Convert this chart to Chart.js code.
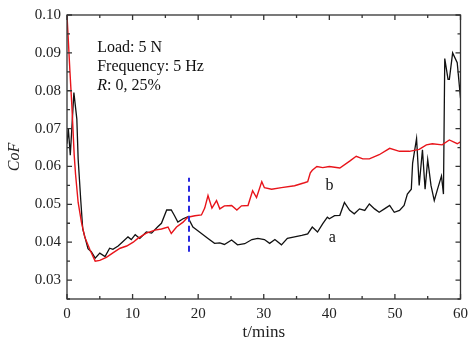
<!DOCTYPE html>
<html>
<head>
<meta charset="utf-8">
<script src="https://cdn.jsdelivr.net/npm/chart.js@4.4.1/dist/chart.umd.min.js"></script>
<style>
  html, body { margin: 0; padding: 0; background: #fff; }
  canvas { display: block; }
</style>
</head>
<body>
<canvas id="cofChart" width="474" height="353"></canvas>
<script>
// curve a (black)
const timeA = [0, 0.2, 0.5, 1.05, 1.5, 1.7, 2.1, 2.4, 3.2, 3.7, 4.3, 5.0, 5.8, 6.5, 7.0, 7.8, 8.5, 9.3, 9.8, 10.4,
    11.1, 12.1, 12.9, 13.8, 14.4, 15.2, 15.9, 16.4, 16.9, 17.7, 18.4, 19.2, 19.5, 20.5, 21.5, 22.5, 23.3, 24.0, 25.1, 26.0,
    27.1, 28.2, 29.1, 30.1, 30.9, 31.7, 32.7, 33.6, 34.7, 35.8, 36.7, 37.4, 38.2, 39.0, 39.7, 40.0, 40.8, 41.6, 42.3, 43.1,
    43.8, 44.6, 45.4, 46.1, 46.9, 47.6, 48.4, 49.2, 49.9, 50.7, 51.4, 51.9, 52.5, 52.7, 53.3, 53.7, 54.2, 54.6, 55.0, 55.5,
    56.0, 56.5, 57.1, 57.4, 57.6, 58.1, 58.3, 58.8, 59.5, 60.0];
const cofA = [0.066, 0.070, 0.063, 0.0795, 0.0725, 0.062, 0.051, 0.0435, 0.0383, 0.0375, 0.0358, 0.0371, 0.0362, 0.0384, 0.0381, 0.039, 0.0401, 0.0414, 0.0407, 0.042,
    0.041, 0.0427, 0.0424, 0.044, 0.045, 0.0485, 0.0485, 0.047, 0.0453, 0.0462, 0.0467, 0.044, 0.0436, 0.0423, 0.041, 0.0397, 0.0398, 0.0394, 0.0406, 0.0393,
    0.0396, 0.0407, 0.041, 0.0407, 0.0397, 0.0407, 0.0393, 0.041, 0.0414, 0.0418, 0.0422, 0.044, 0.0427, 0.0449, 0.0466, 0.0462, 0.047, 0.0471, 0.0505, 0.0484,
    0.0475, 0.0488, 0.0484, 0.0501, 0.0488, 0.0479, 0.0488, 0.0497, 0.0479, 0.0484, 0.0497, 0.0527, 0.054, 0.0609, 0.0674, 0.055, 0.0644, 0.054, 0.0618, 0.055,
    0.051, 0.054, 0.0575, 0.0527, 0.0885, 0.083, 0.083, 0.090, 0.0874, 0.078];

// curve b (red)
const timeB = [0, 0.45, 0.75, 1.1, 1.3, 1.7, 2.2, 2.7, 3.5, 4.3, 5.0, 6.0, 7.0, 8.1, 9.1, 10.1, 10.8, 12.1, 13.4, 14.4,
    15.4, 15.9, 16.7, 17.7, 18.4, 19.5, 20.5, 21.0, 21.5, 22.1, 22.8, 23.3, 24.0, 25.1, 25.9, 26.6, 27.6, 28.3, 28.9, 29.7,
    30.1, 31.2, 32.7, 34.7, 36.2, 36.7, 37.1, 37.4, 38.1, 39.0, 40.0, 41.6, 43.1, 44.1, 45.1, 46.1, 47.6, 49.2, 50.7, 52.2,
    53.7, 54.8, 55.7, 57.2, 58.3, 59.5, 60.0];
const cofB = [0.100, 0.085, 0.0757, 0.063, 0.058, 0.0505, 0.0453, 0.0414, 0.038, 0.035, 0.0352, 0.036, 0.0372, 0.0384, 0.039, 0.040, 0.041, 0.0424, 0.0432, 0.0435,
    0.044, 0.0423, 0.044, 0.0453, 0.0466, 0.047, 0.0472, 0.049, 0.0523, 0.049, 0.051, 0.0488, 0.0496, 0.0497, 0.0485, 0.0496, 0.0497, 0.0536, 0.0518, 0.056,
    0.0544, 0.054, 0.0544, 0.0549, 0.0557, 0.056, 0.0583, 0.059, 0.060, 0.0597, 0.060, 0.0596, 0.0614, 0.0627, 0.062, 0.062, 0.0631, 0.0648, 0.064, 0.064,
    0.0645, 0.0657, 0.066, 0.0657, 0.067, 0.066, 0.0665];

// dashed marker
const markerTime = [18.6, 18.6];
const markerCoF = [0.0375, 0.057];

const xTicks = [0, 10, 20, 30, 40, 50, 60];
const yTicks = [0.03, 0.04, 0.05, 0.06, 0.07, 0.08, 0.09, 0.10];

const toPoints = (xs, ys) => xs.map((x, i) => ({ x: x, y: ys[i] }));

const serif = '"Liberation Serif", "DejaVu Serif", serif';

// frame, inward ticks and text labels
const framePlugin = {
    id: 'frame',
    afterDraw(chart) {
        const { ctx, chartArea: a, scales: { x, y } } = chart;
        ctx.save();
        ctx.strokeStyle = '#333';
        ctx.lineWidth = 1.3;
        ctx.strokeRect(a.left, a.top, a.right - a.left, a.bottom - a.top);
        ctx.beginPath();
        for (let v = 0; v <= 60; v += 5) {
            const px = x.getPixelForValue(v);
            const len = v % 10 === 0 ? 5 : 3;
            ctx.moveTo(px, a.bottom); ctx.lineTo(px, a.bottom - len);
            ctx.moveTo(px, a.top); ctx.lineTo(px, a.top + len);
        }
        for (let k = 5; k <= 20; k++) {
            const v = k * 0.005;
            const py = y.getPixelForValue(v);
            const len = k % 2 === 0 ? 5 : 3;
            ctx.moveTo(a.left, py); ctx.lineTo(a.left + len, py);
            ctx.moveTo(a.right, py); ctx.lineTo(a.right - len, py);
        }
        ctx.stroke();

        ctx.fillStyle = '#111';
        ctx.textBaseline = 'alphabetic';
        ctx.font = '16px ' + serif;
        const tx = x.getPixelForValue(4.6);
        ctx.fillText('Load: 5 N', tx, y.getPixelForValue(0.0903));
        ctx.fillText('Frequency: 5 Hz', tx, y.getPixelForValue(0.0853));
        ctx.font = 'italic 16px ' + serif;
        ctx.fillText('R', tx, y.getPixelForValue(0.0803));
        const rw = ctx.measureText('R').width;
        ctx.font = '16px ' + serif;
        ctx.fillText(': 0, 25%', tx + rw, y.getPixelForValue(0.0803));
        ctx.fillText('b', x.getPixelForValue(39.4), y.getPixelForValue(0.0539));
        ctx.fillText('a', x.getPixelForValue(39.9), y.getPixelForValue(0.0401));
        ctx.restore();
    }
};

new Chart(document.getElementById('cofChart'), {
    type: 'line',
    data: {
        datasets: [
            {
                data: toPoints(markerTime, markerCoF),
                borderColor: '#2a2ae0',
                borderWidth: 2,
                borderDash: [6, 4],
                pointRadius: 0
            },
            {
                data: toPoints(timeB, cofB),
                borderColor: '#e8141a',
                borderWidth: 1.4,
                pointRadius: 0,
                tension: 0
            },
            {
                data: toPoints(timeA, cofA),
                borderColor: '#111',
                borderWidth: 1.3,
                pointRadius: 0,
                tension: 0
            }
        ]
    },
    options: {
        responsive: false,
        animation: false,
        devicePixelRatio: 1,
        layout: { padding: { left: 0, right: 13, top: 9, bottom: 0 } },
        plugins: { legend: { display: false }, tooltip: { enabled: false } },
        scales: {
            x: {
                type: 'linear',
                min: 0,
                max: 60,
                grid: { display: false, drawTicks: false },
                border: { display: false },
                afterBuildTicks: s => { s.ticks = xTicks.map(v => ({ value: v })); },
                afterFit: s => { s.height = 54; },
                ticks: { color: '#222', padding: 6, maxRotation: 0, font: { family: serif, size: 15 } },
                title: { display: true, text: 't/mins', color: '#222', padding: { top: 0, bottom: 10 }, font: { family: serif, size: 17 } }
            },
            y: {
                type: 'linear',
                min: 0.025,
                max: 0.10,
                grid: { display: false, drawTicks: false },
                border: { display: false },
                afterBuildTicks: s => { s.ticks = yTicks.map(v => ({ value: v })); },
                afterFit: s => { s.width = 67; },
                ticks: { color: '#222', padding: 6, callback: v => v.toFixed(2), font: { family: serif, size: 15 } },
                title: { display: true, text: 'CoF', color: '#222', padding: { top: 5, bottom: 0 }, font: { family: serif, size: 16, style: 'italic' } }
            }
        }
    },
    plugins: [framePlugin]
});
</script>
</body>
</html>
